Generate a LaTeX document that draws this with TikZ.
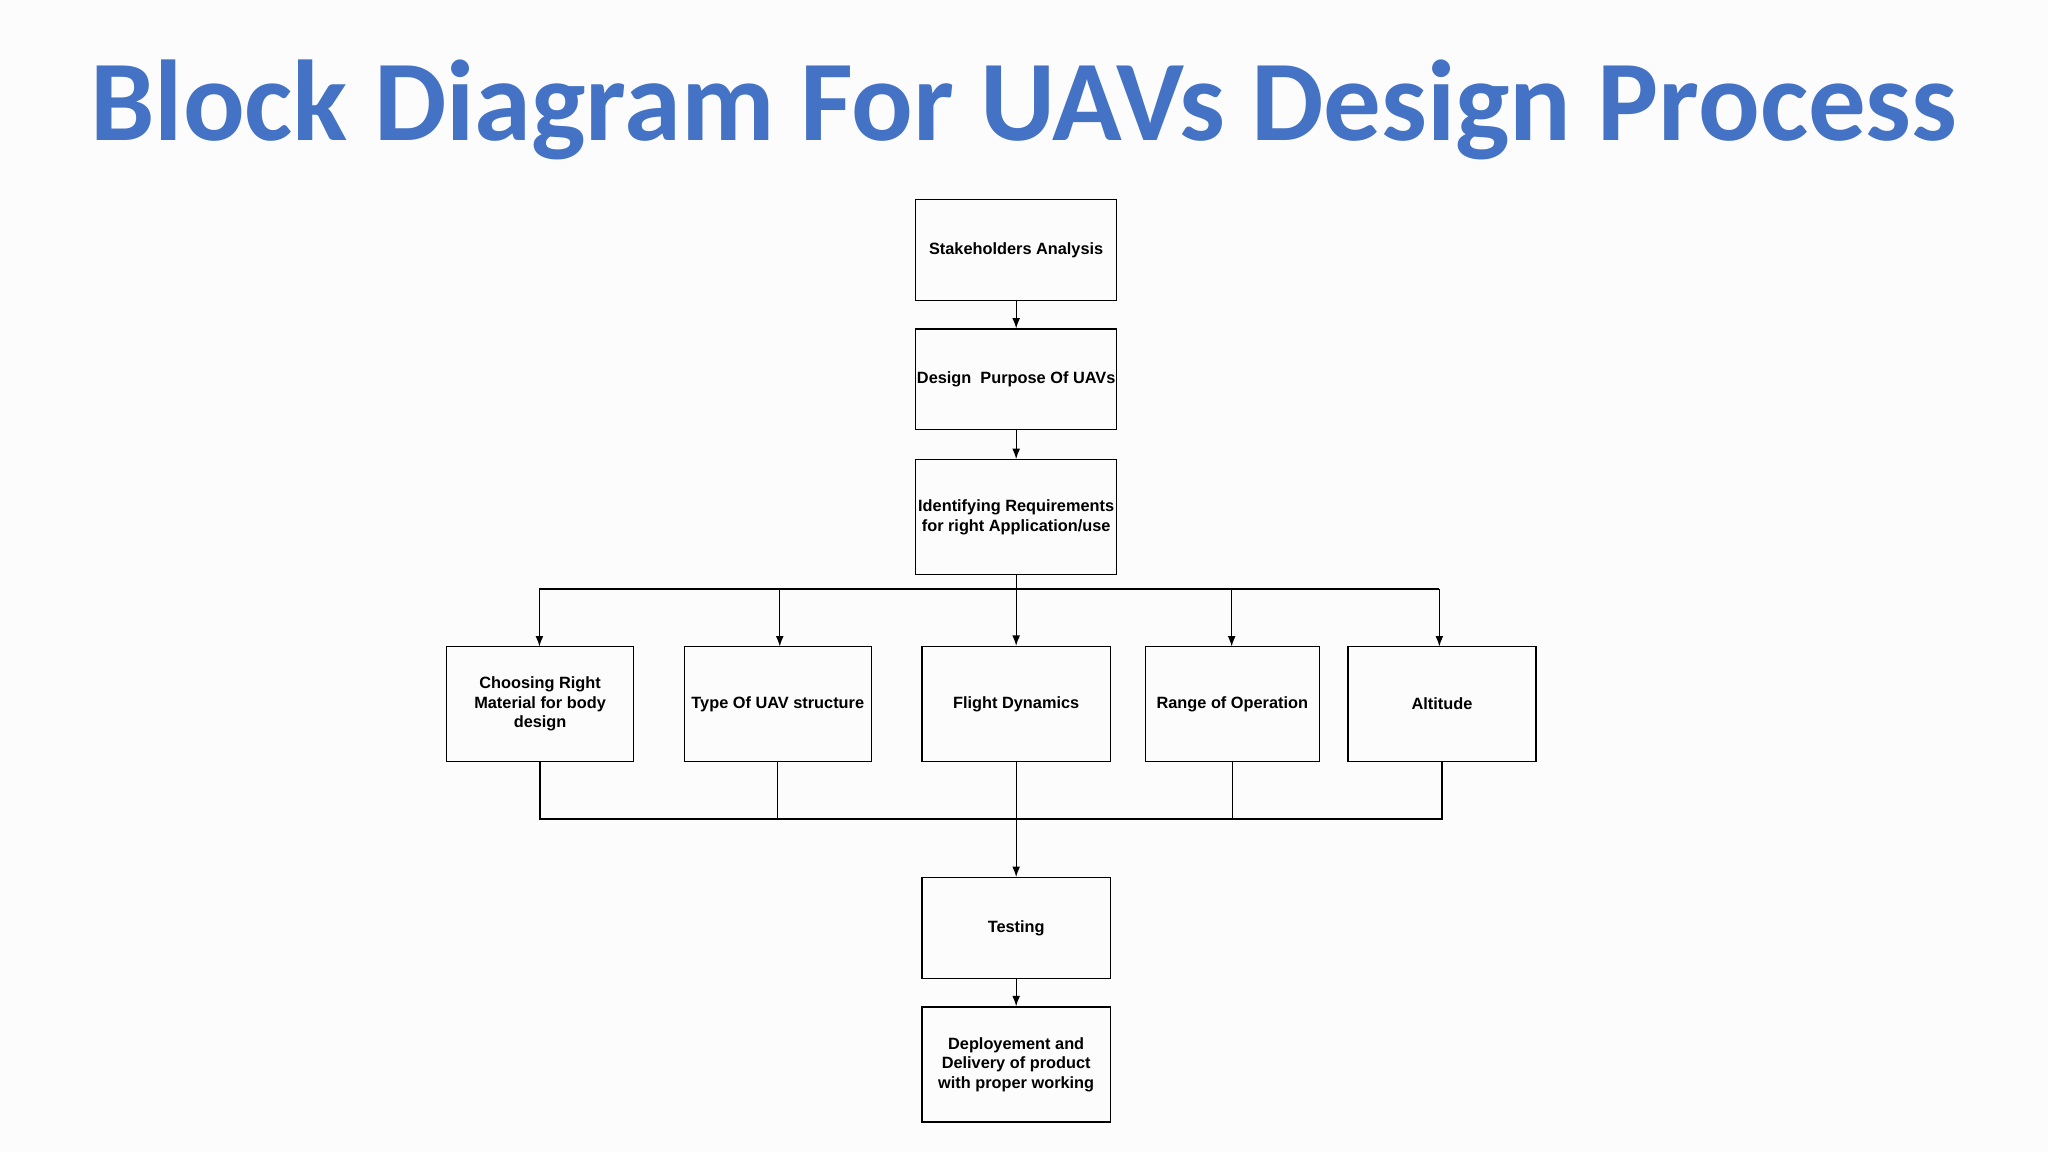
\documentclass[tikz,border=0pt]{standalone}
\usepackage{fontspec}
\setmainfont{Liberation Sans}
\newfontfamily\titlefont{Carlito}
\usetikzlibrary{arrows.meta}
\definecolor{titleblue}{HTML}{4472C4}
\begin{document}
\begin{tikzpicture}[x=1pt,y=-1pt,
  blk/.style={draw=black,line width=1pt,inner sep=1pt,align=center,font=\bfseries\fontsize{12.5}{15}\selectfont},
  con/.style={line width=1pt},
  arr/.style={con,-{Latex[length=8pt,width=6pt]}}]
\fill[white!99!black] (0,0) rectangle (1568,882);
\useasboundingbox (0,0) rectangle (1568,882);
\node[font=\titlefont\bfseries\fontsize{88}{94}\selectfont,text=titleblue] (title) at (784,84) {Block Diagram For UAVs Design Process};
\node[blk,minimum width=154pt,minimum height=77pt] (s) at (778,191.5) {Stakeholders Analysis};
\node[blk,minimum width=154pt,minimum height=77pt] (d) at (778,290.5) {Design\ \ Purpose Of UAVs};
\node[blk,minimum width=154pt,minimum height=88pt] (r) at (778,396) {Identifying Requirements\\for right Application/use};
\node[blk,minimum width=143pt,minimum height=88pt] (a) at (413.5,539) {Choosing Right\\Material for body\\design};
\node[blk,minimum width=143pt,minimum height=88pt] (b) at (595.5,539) {Type Of UAV structure};
\node[blk,minimum width=144pt,minimum height=88pt] (c) at (778,539) {Flight Dynamics};
\node[blk,minimum width=133pt,minimum height=88pt] (e) at (943.5,539) {Range of Operation};
\node[blk,minimum width=144pt,minimum height=88pt] (f) at (1104,539) {Altitude};
\node[blk,minimum width=144pt,minimum height=77pt] (t) at (778,710.5) {Testing};
\node[blk,minimum width=144pt,minimum height=88pt] (p) at (778,815) {Deployement and\\Delivery of product\\with proper working};
\draw[arr] (s) -- (d);
\draw[arr] (d) -- (r);
\coordinate (split) at (778,451);
\coordinate (join) at (778,627);
\draw[con] (r.south) -- (split);
\draw[con] (413,451) -- (1102,451);
\draw[arr] (413,451) -- (413,495);
\draw[arr] (597,451) -- (597,495);
\draw[arr] (split) -- (c);
\draw[arr] (943,451) -- (943,495);
\draw[arr] (1102,451) -- (1102,495);
\draw[con] (a.south) -- (413.5,627) -- (1104,627) -- (f.south);
\draw[con] (b.south) -- (595.5,627);
\draw[con] (e.south) -- (943.5,627);
\draw[con] (c.south) -- (join);
\draw[arr] (join) -- (t);
\draw[arr] (t) -- (p);
\end{tikzpicture}
\end{document}
